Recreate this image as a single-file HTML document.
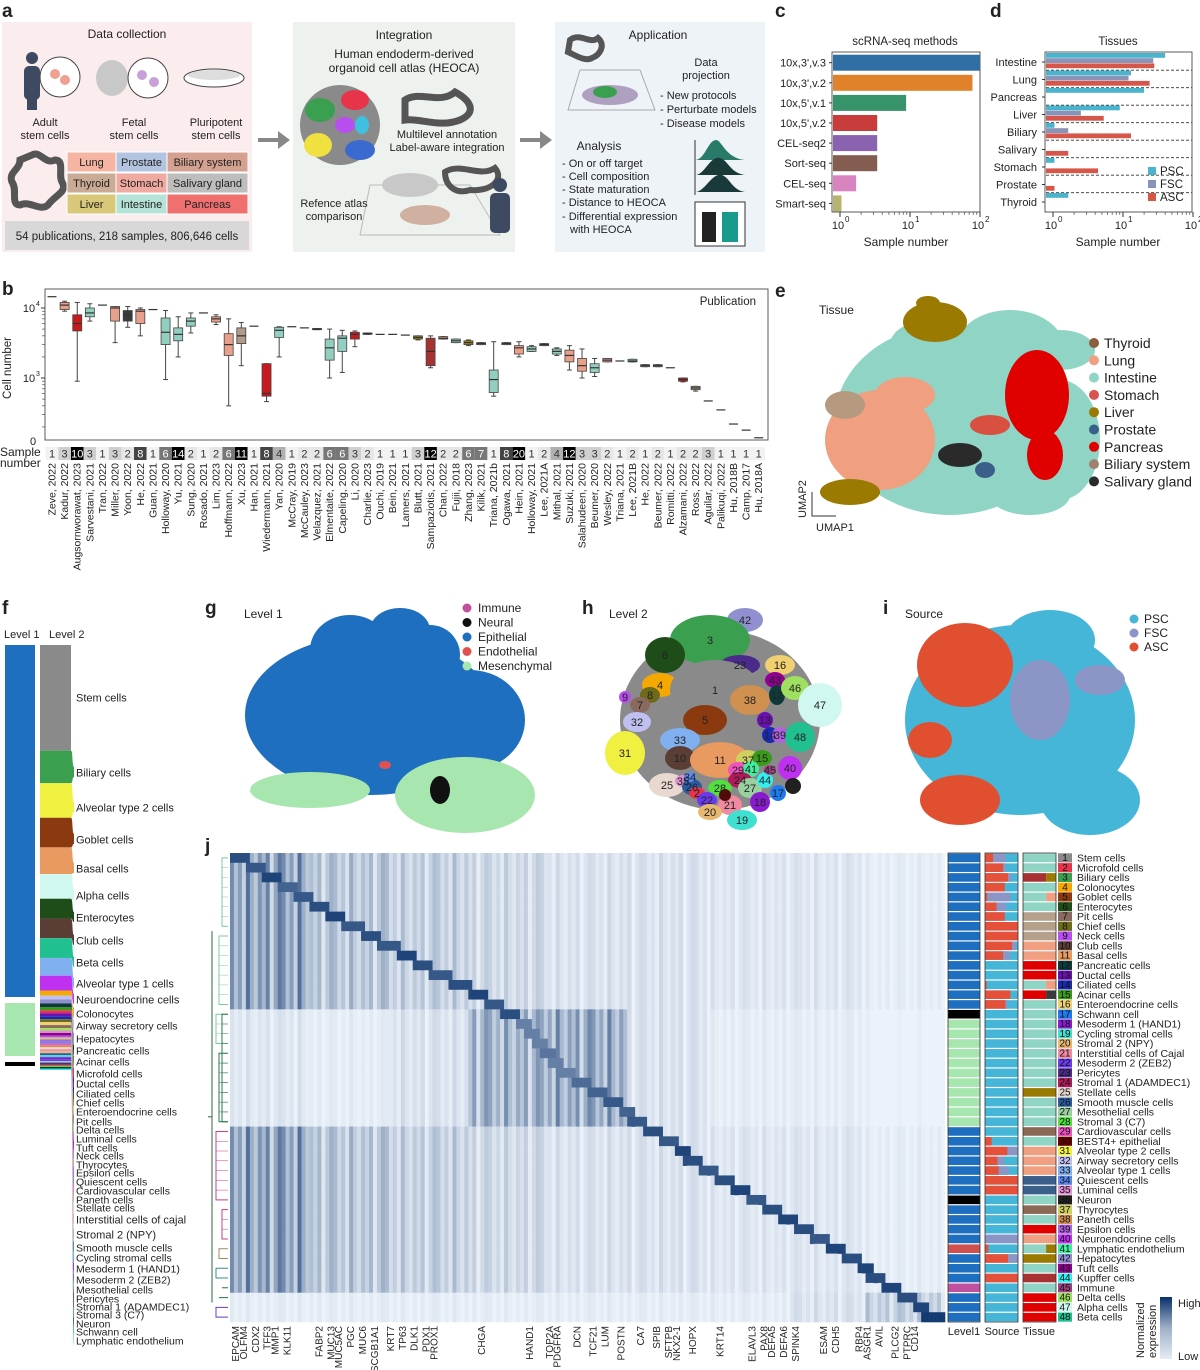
<!DOCTYPE html>
<html><head><meta charset="utf-8">
<style>
html,body{margin:0;padding:0;background:#fff;}
svg{display:block;font-family:"Liberation Sans",sans-serif;}
</style></head>
<body>
<svg id="fig" width="1200" height="1370" viewBox="0 0 1200 1370" xmlns="http://www.w3.org/2000/svg" fill="#222">
<g font-weight="bold" font-size="19">
<text x="2" y="17">a</text>
<text x="775" y="17">c</text>
<text x="990" y="17">d</text>
<text x="2" y="295">b</text>
<text x="775" y="297">e</text>
<text x="2" y="614">f</text>
<text x="205" y="614">g</text>
<text x="582" y="614">h</text>
<text x="883" y="614">i</text>
<text x="205" y="852">j</text>
</g>

<g id="panelA" font-size="11">
<rect x="2" y="22" width="250" height="230" fill="#fbeced"/>
<text x="127" y="38" text-anchor="middle" font-size="12">Data collection</text>
<g>
<circle cx="32" cy="58" r="6" fill="#3d4a62"/><rect x="24" y="66" width="16" height="34" rx="5" fill="#3d4a62"/><rect x="27" y="98" width="10" height="12" fill="#3d4a62"/>
<circle cx="60" cy="77" r="20" fill="#fff" stroke="#444"/><circle cx="55" cy="74" r="5" fill="#f0a090"/><circle cx="65" cy="80" r="5" fill="#f0a090"/>
</g>
<text x="45" y="126" text-anchor="middle">Adult</text>
<text x="45" y="139" text-anchor="middle">stem cells</text>
<g>
<ellipse cx="112" cy="78" rx="16" ry="18" fill="#c8c8c8"/><circle cx="148" cy="78" r="20" fill="#fff" stroke="#444"/><circle cx="142" cy="75" r="5" fill="#c8a0d8"/><circle cx="154" cy="82" r="5" fill="#c8a0d8"/>
</g>
<text x="134" y="126" text-anchor="middle">Fetal</text>
<text x="134" y="139" text-anchor="middle">stem cells</text>
<g>
<ellipse cx="214" cy="78" rx="30" ry="9" fill="#fff" stroke="#444"/><ellipse cx="214" cy="75" rx="26" ry="5" fill="#ddd"/>
</g>
<text x="216" y="126" text-anchor="middle">Pluripotent</text>
<text x="216" y="139" text-anchor="middle">stem cells</text>
<path d="M32 155 C40 150 45 165 55 160 C65 160 58 175 62 182 C68 192 55 195 48 205 C40 212 30 200 20 205 C10 205 18 190 12 182 C8 172 20 170 20 160 Z" fill="none" stroke="#555" stroke-width="7"/>
<g id="tissueTable"></g>
<rect x="5" y="221" width="244" height="29" fill="#d8d8d8"/>
<text x="127" y="240" text-anchor="middle" font-size="11.5">54 publications, 218 samples, 806,646 cells</text>
<path d="M258 138 L278 138 L278 131 L290 140 L278 149 L278 142 L258 142 Z" fill="#888"/>
<rect x="293" y="22" width="222" height="230" fill="#eef2ee"/>
<text x="404" y="39" text-anchor="middle" font-size="12">Integration</text>
<text x="404" y="58" text-anchor="middle" font-size="12">Human endoderm-derived</text>
<text x="404" y="72" text-anchor="middle" font-size="12">organoid cell atlas (HEOCA)</text>
<g>
<ellipse cx="340" cy="125" rx="40" ry="40" fill="#8a8a8a"/><ellipse cx="320" cy="110" rx="15" ry="12" fill="#3aa050"/><ellipse cx="355" cy="100" rx="14" ry="10" fill="#e8344a"/><ellipse cx="318" cy="145" rx="14" ry="12" fill="#f0e040"/><ellipse cx="360" cy="150" rx="15" ry="10" fill="#3a6ad0"/><ellipse cx="345" cy="125" rx="10" ry="8" fill="#b84ef0"/><ellipse cx="362" cy="125" rx="7" ry="9" fill="#40c0e0"/>
<path d="M405 100 C420 90 440 105 455 92 C470 100 478 112 460 120 C440 128 420 118 405 120 Z" fill="none" stroke="#555" stroke-width="7"/>
</g>
<text x="447" y="138" text-anchor="middle">Multilevel annotation</text>
<text x="447" y="151" text-anchor="middle">Label-aware integration</text>
<path d="M370 185 L470 185 L500 235 L360 235 Z" fill="none" stroke="#bbb"/>
<ellipse cx="410" cy="185" rx="28" ry="12" fill="#c8c8c8"/><ellipse cx="425" cy="215" rx="25" ry="10" fill="#d0b0a0"/>
<path d="M445 172 C460 162 480 178 495 168 C505 180 490 192 470 190 C455 195 445 185 445 172 Z" fill="none" stroke="#555" stroke-width="6"/>
<circle cx="500" cy="185" r="7" fill="#3d4a62"/><rect x="490" y="193" width="20" height="40" rx="5" fill="#3d4a62"/>
<text x="334" y="207" text-anchor="middle">Refence atlas</text>
<text x="334" y="220" text-anchor="middle">comparison</text>
<path d="M520 138 L540 138 L540 131 L552 140 L540 149 L540 142 L520 142 Z" fill="#888"/>
<rect x="555" y="22" width="210" height="230" fill="#eef3f8"/>
<text x="658" y="39" text-anchor="middle" font-size="12">Application</text>
<path d="M570 40 C580 32 590 45 598 38 C606 45 600 55 592 58 C585 62 575 55 568 52 Z" fill="none" stroke="#555" stroke-width="6"/>
<path d="M580 70 L640 70 L655 110 L568 110 Z" fill="none" stroke="#aaa"/><ellipse cx="610" cy="95" rx="28" ry="10" fill="#b0a0c0"/><ellipse cx="605" cy="92" rx="12" ry="6" fill="#3aa050"/>
<text x="706" y="66" text-anchor="middle">Data</text>
<text x="706" y="79" text-anchor="middle">projection</text>
<text x="660" y="99">- New protocols</text>
<text x="660" y="113">- Perturbate models</text>
<text x="660" y="127">- Disease models</text>
<text x="599" y="150" text-anchor="middle" font-size="12">Analysis</text>
<text x="562" y="167">- On or off target</text>
<text x="562" y="180">- Cell composition</text>
<text x="562" y="193">- State maturation</text>
<text x="562" y="206">- Distance to HEOCA</text>
<text x="562" y="220">- Differential expression</text>
<text x="570" y="233">with HEOCA</text>
<g><path d="M695 160 C705 160 708 140 716 140 C722 140 725 158 745 160 Z" fill="#2a7a6a"/><path d="M695 175 C705 175 710 155 720 158 C728 160 730 173 745 175 Z" fill="#1a3a3a"/><path d="M695 192 C705 192 712 172 722 175 C730 178 732 190 745 192 Z" fill="#1a3a3a"/><line x1="695" y1="140" x2="695" y2="195" stroke="#333"/></g>
<rect x="695" y="202" width="50" height="44" fill="#fff" stroke="#333"/>
<rect x="702" y="212" width="14" height="30" fill="#222"/><rect x="722" y="212" width="16" height="30" fill="#1a9a8a"/>
</g>

<g id="panelC" font-size="11"></g>
<g id="panelD" font-size="11"></g>
<g id="panelB" font-size="11"></g>

<g id="panelE">
<text x="819" y="314" font-size="12">Tissue</text>
<g>
<ellipse cx="950" cy="420" rx="115" ry="95" fill="#8fd4c4"/>
<ellipse cx="1010" cy="350" rx="55" ry="40" fill="#8fd4c4"/>
<ellipse cx="1060" cy="350" rx="35" ry="20" fill="#8fd4c4"/>
<ellipse cx="930" cy="345" rx="40" ry="25" fill="#8fd4c4"/>
<ellipse cx="1060" cy="440" rx="40" ry="60" fill="#8fd4c4"/>
<ellipse cx="1030" cy="495" rx="40" ry="20" fill="#8fd4c4"/>
<ellipse cx="935" cy="322" rx="32" ry="20" fill="#9a7a00"/>
<ellipse cx="928" cy="303" rx="12" ry="7" fill="#9a7a00"/>
<ellipse cx="1037" cy="395" rx="32" ry="45" fill="#e00000"/>
<ellipse cx="1045" cy="455" rx="18" ry="25" fill="#e00000"/>
<ellipse cx="880" cy="440" rx="55" ry="50" fill="#f0a080"/>
<ellipse cx="905" cy="395" rx="30" ry="18" fill="#f0a080"/>
<ellipse cx="845" cy="405" rx="20" ry="14" fill="#b69a80"/>
<ellipse cx="960" cy="455" rx="22" ry="12" fill="#2a2a2a"/>
<ellipse cx="985" cy="470" rx="10" ry="8" fill="#3a5f8a"/>
<ellipse cx="850" cy="492" rx="30" ry="13" fill="#9a7a00"/>
<ellipse cx="990" cy="425" rx="20" ry="10" fill="#d95040"/>
</g>
<path d="M812 492 L812 516 L836 516" fill="none" stroke="#333"/>
<text x="816" y="531" font-size="11">UMAP1</text>
<text x="806" y="518" font-size="11" transform="rotate(-90 806 518)">UMAP2</text>
<g id="legendE" font-size="14"></g>
</g>

<g id="panelF" font-size="11">
<text x="4" y="638">Level 1</text>
<text x="49" y="638">Level 2</text>
</g>

<g id="panelG">
<text x="244" y="618" font-size="12">Level 1</text>
<ellipse cx="370" cy="715" rx="125" ry="80" fill="#1f6fc0"/>
<ellipse cx="350" cy="650" rx="40" ry="35" fill="#1f6fc0"/>
<ellipse cx="400" cy="630" rx="30" ry="22" fill="#1f6fc0"/>
<ellipse cx="470" cy="720" rx="55" ry="50" fill="#1f6fc0"/>
<ellipse cx="430" cy="655" rx="30" ry="30" fill="#1f6fc0"/>
<ellipse cx="465" cy="795" rx="70" ry="38" fill="#a8e6b0"/>
<ellipse cx="310" cy="790" rx="60" ry="18" fill="#a8e6b0"/>
<ellipse cx="440" cy="790" rx="10" ry="14" fill="#111"/>
<ellipse cx="385" cy="765" rx="6" ry="4" fill="#e05050"/>
<g id="legendG" font-size="12"></g>
</g>

<g id="panelH">
<text x="609" y="618" font-size="12">Level 2</text>
<g id="umapH"></g>
</g>

<g id="panelI">
<text x="905" y="618" font-size="12">Source</text>
<ellipse cx="1020" cy="720" rx="115" ry="95" fill="#46b6d8"/>
<ellipse cx="1050" cy="640" rx="45" ry="30" fill="#46b6d8"/>
<ellipse cx="1090" cy="800" rx="50" ry="35" fill="#46b6d8"/>
<ellipse cx="960" cy="800" rx="40" ry="25" fill="#e05030"/>
<ellipse cx="965" cy="665" rx="48" ry="42" fill="#e05030"/>
<ellipse cx="1040" cy="700" rx="30" ry="40" fill="#8c96c6"/>
<ellipse cx="1100" cy="680" rx="25" ry="15" fill="#8c96c6"/>
<ellipse cx="930" cy="740" rx="22" ry="18" fill="#e05030"/>
<g id="legendI" font-size="12"></g>
</g>

<g id="panelJ" font-size="10.5"></g>
</svg>

<script>
const methodNames = ["10x,3',v.3","10x,3',v.2","10x,5',v.1","10x,5',v.2","CEL-seq2","Sort-seq","CEL-seq","Smart-seq"];
const methodCounts = [100, 78, 8.8, 3.4, 3.4, 3.4, 1.7, 1.05];
const methodColors = ["#2f6fa3","#e0822a","#36936a","#c83c3c","#8b62b0","#845c50","#d984c0","#b6b46e"];

const tissueNames = ["Intestine","Lung","Pancreas","Liver","Biliary","Salivary","Stomach","Prostate","Thyroid"];
const tissuePSC = [40, 13, 20, 9, 1.05, 0, 1.05, 0, 1.65];
const tissueFSC = [27, 12, 0, 2.5, 1.65, 0, 0, 0, 0];
const tissueASC = [28, 24, 0, 5.3, 13, 1.65, 4.4, 1.05, 0];

const pubNames = ["Zeve, 2022","Kadur, 2022","Augsornworawat, 2023","Sarvestani, 2021","Tran, 2022","Miller, 2020","Yoon, 2022","He, 2022","Guan, 2021","Holloway, 2020","Yu, 2021","Sung, 2020","Rosado, 2021","Lim, 2023","Hoffmann, 2022","Xu, 2023","Han, 2021","Wiedermann, 2021","Yan, 2020","McCray, 2019","McCauley, 2023","Velazquez, 2021","Elmentaite, 2022","Capeling, 2020","Li, 2020","Charlie, 2023","Ouchi, 2019","Bein, 2021","Lamers, 2021","Blutt, 2021","Sampaziotis, 2021","Chan, 2022","Fujii, 2018","Zhang, 2023","Kilik, 2021","Triana, 2021b","Ogawa, 2021","Hein, 2021","Holloway, 2021","Lee, 2021A","Mithal, 2021","Suzuki, 2021","Salahudeen, 2020","Beumer, 2020","Wesley, 2022","Triana, 2021","Lee, 2021B","He, 2022","Beumer, 2022","Romitti, 2022","Alzamani, 2022","Ross, 2022","Aguilar, 2022","Palikuqi, 2022","Hu, 2018B","Camp, 2017","Hu, 2018A"];
const pubSamples = [1,3,10,3,1,3,2,8,1,6,14,2,1,2,6,11,1,8,4,1,2,2,6,6,3,2,1,1,1,3,12,2,2,6,7,1,8,20,1,2,4,12,3,3,2,1,2,1,2,1,2,2,3,1,1,1,1];
const pubMedian = [14500,11000,6000,8500,11000,10000,8000,9000,9500,4500,4200,6500,8500,7000,3000,4000,5500,600,4800,5400,5200,5000,2700,3700,4200,4300,4200,4200,4100,3800,2400,3700,3400,3200,3100,950,3100,2700,2600,3000,2400,2100,1500,1400,1800,1750,1750,1500,1500,1400,950,720,470,350,220,180,140];
const pubQ1 = [14500,9500,4700,7500,11000,6500,6500,6000,9500,3000,3400,5500,8500,6300,2100,3100,5500,550,3800,5400,5200,4900,1800,2400,3600,4200,4200,4200,4100,3600,1500,3600,3200,3000,3000,620,3000,2200,2400,2900,2200,1700,1250,1200,1700,1750,1700,1450,1450,1400,900,680,470,350,220,180,140];
const pubQ3 = [14500,12000,8000,10000,11000,10500,9200,9500,9500,7200,5200,7200,8500,7500,4300,5200,5500,1600,5300,5400,5200,5100,3600,4000,4500,4400,4200,4200,4100,4000,3700,3900,3600,3400,3200,1300,3200,2900,2800,3100,2600,2500,1900,1600,1900,1750,1850,1550,1550,1400,1000,760,470,350,220,180,140];
const pubMin = [14500,9000,900,6500,11000,3200,5300,4000,9500,950,2000,4400,8500,5800,400,1500,5500,460,2000,5400,5200,4900,1000,1200,2800,4200,4200,4200,4100,3500,1400,3600,3200,2900,3000,550,3000,2000,2400,2900,2100,1300,1000,1050,1700,1750,1700,1450,1450,1400,880,650,470,350,220,180,140];
const pubMax = [14500,12500,12000,11500,11000,10500,10500,10000,9500,9200,7500,8500,8500,8000,7000,6200,5500,1600,5400,5400,5200,5100,5000,4800,4700,4400,4200,4200,4100,4000,4000,3900,3600,3500,3200,3300,3200,3300,2900,3100,2700,2900,2600,1900,1900,1750,1850,1550,1550,1400,1000,760,470,350,220,180,140];
const pubTissue = ["I","L","P","I","I","L","S","L","L","I","I","I","V","L","L","T","B","P","I","L","L","I","I","I","P","I","I","I","I","V","B","L","I","V","I","I","I","L","I","L","I","L","L","I","L","I","I","L","I","T","P","T","L","I","V","L","V"];
const tissueColor = {I:"#93cfc0",L:"#e8a08a",P:"#c8191e",S:"#3a3a3a",T:"#b09a88",V:"#a88a10",B:"#a83232",R:"#3a5f8a"};

const eLegendNames = ["Thyroid","Lung","Intestine","Stomach","Liver","Prostate","Pancreas","Biliary system","Salivary gland"];
const eLegendColors = ["#8b5e3c","#f0a080","#8fd4c4","#d9534f","#9a7a00","#3a5f8a","#e00000","#a08070","#2a2a2a"];

const clusterNames = ["Stem cells","Microfold cells","Biliary cells","Colonocytes","Goblet cells","Enterocytes","Pit cells","Chief cells","Neck cells","Club cells","Basal cells","Pancreatic cells","Ductal cells","Ciliated cells","Acinar cells","Enteroendocrine cells","Schwann cell","Mesoderm 1 (HAND1)","Cycling stromal cells","Stromal 2 (NPY)","Interstitial cells of Cajal","Mesoderm 2 (ZEB2)","Pericytes","Stromal 1 (ADAMDEC1)","Stellate cells","Smooth muscle cells","Mesothelial cells","Stromal 3 (C7)","Cardiovascular cells","BEST4+ epithelial","Alveolar type 2 cells","Airway secretory cells","Alveolar type 1 cells","Quiescent cells","Luminal cells","Neuron","Thyrocytes","Paneth cells","Epsilon cells","Neuroendocrine cells","Lymphatic endothelium","Hepatocytes","Tuft cells","Kupffer cells","Immune","Delta cells","Alpha cells","Beta cells"];
const clusterColors = ["#8a8a8a","#e8344a","#3aa050","#f5a800","#8b3a0f","#1f4d1a","#8a6a5e","#6d6a1a","#b84ef0","#5a3e36","#e89a60","#0f3a3a","#6a0fb0","#1a2ab0","#3a9a1a","#f0d070","#1a7af0","#8a1ad0","#40e0d0","#e8b870","#f08aa0","#6a3af0","#4a2a8a","#b01a5a","#e8d8d0","#2a5aa0","#9ad0a0","#50e040","#f050c0","#6a0000","#f0f040","#c0c0f0","#80b0f0","#5a8af0","#e090d0","#202020","#d0d060","#d09050","#b060e0","#c030f0","#40f0a0","#9090d0","#900090","#30f0f0","#a04080","#a0e060","#d0f8f0","#20c090"];
const clusterLevel1 = ["E","E","E","E","E","E","E","E","E","E","E","E","E","E","E","E","N","M","M","M","M","M","M","M","M","M","M","M","E","E","E","E","E","E","E","N","E","E","E","E","D","E","E","E","X","E","E","E"];
const level1Color = {E:"#1f6fc0",N:"#000",M:"#a8e6b0",D:"#d05050",X:"#c050a0"};
const srcASC = [.25,.55,.7,.6,.07,.35,.6,1,1,.82,.55,0,0,.05,.77,.62,0,0,0,0,0,0,0,0,0,0,0,0,0,.2,.68,.38,.42,1,1,0,0,0,0,0,.1,.7,0,1,0,0,0,0];
const srcFSC = [.37,.08,.1,0,.7,.28,0,0,0,.12,.2,0,0,0,0,.05,0,0,.03,0,0,0,0,0,0,0,0,0,0,0,.32,.2,.3,0,0,0,0,0,0,1,0,.3,0,0,0,0,0,0];
const rowTissue = ["I","I","BV","I","IL","I","S","S","S","L","L","P","P","IL","PK","I","I","I","I","I","I","I","I","I","V","I","I","I","T","I","L","L","L","R","R","I","T","I","P","L","IV","V","I","B","I","P","P","P"];
const rowTissueColors = {I:"#8fd4c4",L:"#f0a080",P:"#e00000",B:"#a83232",V:"#9a7a00",S:"#b5a08c",T:"#8b6a55",R:"#3a5f8a",K:"#3a3a3a"};

const fLabels = ["Stem cells","Biliary cells","Alveolar type 2 cells","Goblet cells","Basal cells","Alpha cells","Enterocytes","Club cells","Beta cells","Alveolar type 1 cells","Neuroendocrine cells","Colonocytes","Airway secretory cells","Hepatocytes","Pancreatic cells","Acinar cells","Microfold cells","Ductal cells","Ciliated cells","Chief cells","Enteroendocrine cells","Pit cells","Delta cells","Luminal cells","Tuft cells","Neck cells","Thyrocytes","Epsilon cells","Quiescent cells","Cardiovascular cells","Paneth cells","Stellate cells","Interstitial cells of cajal","Stromal 2 (NPY)","Smooth muscle cells","Cycling stromal cells","Mesoderm 1 (HAND1)","Mesoderm 2 (ZEB2)","Mesothelial cells","Pericytes","Stromal 1 (ADAMDEC1)","Stromal 3 (C7)","Neuron","Schwann cell","Lymphatic endothelium"];
const fCells = [107,33,35,30,27,25,20,20,20,18,15,5,4,4,4,3,3,3,3,3,3,3,2.5,2.5,2.5,2,2,2,2,2,2,2,2,2,2,2,2,2,1.5,1.5,1.5,1.5,1,1,1];
const fLabelY = [698,773,808,840,869,896,918,941,963,984,1000,1014,1026,1039,1051,1062,1074,1084,1094,1103,1112,1122,1130,1139,1148,1156,1165,1173,1182,1191,1200,1208,1220,1235,1248,1258,1269,1280,1290,1299,1307,1315,1324,1332,1341];

const geneLabels = ["EPCAM","OLFM4","CDX2","TFF3","MMP1","KLK11","FABP2","MUC13","MUC5AC","PGC","MUC6","SCGB1A1","KRT7","TP63","DLK1","PDX1","PROX1","CHGA","HAND1","TOP2A","PDGFRA","DCN","TCF21","LUM","POSTN","CA7","SPIB","SFTPB","NKX2-1","HOPX","KRT14","ELAVL3","PAX8","DEFA5","DEFA6","SPINK4","ESAM","CDH5","RBP4","ASGR1","AVIL","PLCG2","PTPRC","CD14"];
const geneColIndex = [1,3,6,9,11,14,22,25,27,30,33,36,40,43,46,49,51,63,75,80,82,87,91,94,98,103,107,110,112,116,123,131,134,136,139,142,149,152,158,160,163,167,170,172];

const hmDiagStart = [0,4,8,12,16,20,24,28,33,37,42,46,50,55,60,64,68,72,74,76,78,80,83,86,90,94,98,100,104,108,112,114,118,122,126,130,134,138,142,146,150,154,158,160,164,168,172,174];
const hmDiagWidth = [5,5,5,5,5,5,5,6,5,6,5,5,6,6,5,5,5,4,4,4,4,4,4,5,5,5,4,5,5,5,4,5,5,5,5,5,5,5,5,5,5,5,4,5,5,5,4,6];
const hmDiagValue = [.85,.8,.9,.75,.8,.85,.9,.8,.85,.8,.9,.85,.8,.85,.9,.8,.85,.6,.6,.6,.65,.6,.6,.7,.75,.8,.75,.8,.85,.8,.9,.85,.8,.85,.9,.8,.85,.9,.85,.8,.9,.85,.9,.85,.9,.85,.9,.95];
const hmRowGroup = ["E","E","E","E","E","E","E","E","E","E","E","E","E","E","E","E","M","M","M","M","M","M","M","M","M","M","M","M","E","E","E","E","E","E","E","E","E","E","E","E","E","E","E","E","E","X","X","X"];
const hmGroupBandE = [.45,.25,.2,.15,.1,.1,.08,.08,.05];
const hmGroupBandM = [.08,.05,.1,.35,.4,.1,.05,.05,.03];
const hmGroupBandX = [.05,.05,.05,.05,.05,.05,.05,.1,.2];
const hmColTexture = [1.2,.6,1.0,.4,1.5,.8,.5,1.1,.7,1.3,.3,.9,1.4];

const NS = "http://www.w3.org/2000/svg";
function mk(tag, attrs, parent){const e=document.createElementNS(NS,tag);for(const k in attrs)e.setAttribute(k,attrs[k]);(parent||document.getElementById('fig')).appendChild(e);return e;}
function txt(s, attrs, parent){const e=mk('text',attrs,parent);e.textContent=s;return e;}
function blue(v){
 v=Math.max(0,Math.min(1,v));
 const c0=[240,246,252],c1=[8,48,107];
 const r=Math.round(c0[0]+(c1[0]-c0[0])*v),g=Math.round(c0[1]+(c1[1]-c0[1])*v),b=Math.round(c0[2]+(c1[2]-c0[2])*v);
 return `rgb(${r},${g},${b})`;}

(function(){
 const g=document.getElementById('tissueTable');
 const cells=[["Lung","#f5b5a2"],["Prostate","#b3c4e0"],["Biliary system","#d4a090"],["Thyroid","#c9ab96"],["Stomach","#f0aaa2"],["Salivary gland","#bdbdbd"],["Liver","#d9c87a"],["Intestine","#b5e3d8"],["Pancreas","#f07070"]];
 const xs=[67,116,167],ws=[49,51,81];
 cells.forEach((c,i)=>{const col=i%3,row=Math.floor(i/3);
  const r=mk('rect',{x:xs[col],y:152+row*21,width:ws[col],height:20,fill:c[1],stroke:'#fff'},g);
  
  
  const t=txt(c[0],{x:xs[col]+ws[col]/2,y:152+row*21+14,'text-anchor':'middle','font-size':11},g);
  
  
 });
})();

(function(){
 const g=document.getElementById('panelC');
 const x0=840,dec=70,rowH=20.1,bh=16;
 const xs=v=>x0+dec*Math.log10(v);
 txt("scRNA-seq methods",{x:905,y:45,'text-anchor':'middle','font-size':11.5},g);
 mk('rect',{x:832,y:52,width:148,height:160,fill:'none',stroke:'#333','stroke-width':0.8},g);
 methodNames.forEach((n,i)=>{
  const cy=62.7+i*rowH;
  const b=mk('rect',{x:833,y:cy-bh/2,width:xs(methodCounts[i])-833,height:bh,fill:methodColors[i]},g);
  
  
  const t=txt(n,{x:826,y:cy+4,'text-anchor':'end'},g);
  
  
  mk('line',{x1:829,x2:832,y1:cy,y2:cy,stroke:'#333'},g);
 });
 [0,1,2].forEach(p=>{const x=xs(Math.pow(10,p));mk('line',{x1:x,x2:x,y1:212,y2:217,stroke:'#333'},g);
  const t=txt('10',{x:x-2,y:229,'text-anchor':'middle'},g);
  
  
  txt(String(p),{x:x+5,y:222,'font-size':8},g);
  if(p<2)for(let k=2;k<10;k++){const xx=xs(k*Math.pow(10,p));mk('line',{x1:xx,x2:xx,y1:212,y2:215,stroke:'#333','stroke-width':.6},g);}
 });
 txt("Sample number",{x:906,y:246,'text-anchor':'middle','font-size':12},g);
})();

(function(){
 const g=document.getElementById('panelD');
 const x0=1053,dec=70,rowH=17.5;
 const xs=v=>x0+dec*Math.log10(v);
 txt("Tissues",{x:1118,y:45,'text-anchor':'middle','font-size':11.5},g);
 mk('rect',{x:1045,y:52,width:147,height:160,fill:'none',stroke:'#333','stroke-width':0.8},g);
 const series=[[tissuePSC,"#4bb3cc","psc"],[tissueFSC,"#8a93b8","fsc"],[tissueASC,"#d6564a","asc"]];
 tissueNames.forEach((n,i)=>{
  const cy=62+i*rowH;
  series.forEach((s,j)=>{const v=s[0][i]; if(v>0){
   const b=mk('rect',{x:1046,y:cy-9+j*5.2,width:xs(v)-1046,height:4.8,fill:s[1]},g);
   
   }});
  if(i<8)mk('line',{x1:1046,x2:1192,y1:cy+8.2,y2:cy+8.2,stroke:'#333','stroke-dasharray':'3,2','stroke-width':.8},g);
  const t=txt(n,{x:1037,y:cy+4,'text-anchor':'end'},g);
  
  
  mk('line',{x1:1042,x2:1045,y1:cy,y2:cy,stroke:'#333'},g);
 });
 [0,1,2].forEach(p=>{const x=xs(Math.pow(10,p));mk('line',{x1:x,x2:x,y1:212,y2:217,stroke:'#333'},g);
  const t=txt('10',{x:x-2,y:229,'text-anchor':'middle'},g);
  
  
  txt(String(p),{x:x+5,y:222,'font-size':8},g);
  if(p<2)for(let k=2;k<10;k++){const xx=xs(k*Math.pow(10,p));mk('line',{x1:xx,x2:xx,y1:212,y2:215,stroke:'#333','stroke-width':.6},g);}
 });
 const lg=[["PSC","#4bb3cc"],["FSC","#8a93b8"],["ASC","#d6564a"]];
 lg.forEach((l,i)=>{const r=mk('rect',{x:1148,y:167+i*13,width:8,height:8,fill:l[1]},g);
  
  
  txt(l[0],{x:1160,y:175+i*13,'font-size':11.5},g);});
 txt("Sample number",{x:1118,y:246,'text-anchor':'middle','font-size':12},g);
})();

(function(){
 const g=document.getElementById('panelB');
 const ys=v=>308-70*(Math.log10(v)-4);
 const xAt=i=>52+i*12.62;
 mk('rect',{x:45,y:289,width:723,height:151,fill:'none',stroke:'#333','stroke-width':.8},g);
 txt("Publication",{x:756,y:305,'text-anchor':'end','font-size':11.5},g);
 [[1e4,'4'],[1e3,'3']].forEach(t=>{const y=ys(t[0]);mk('line',{x1:41,x2:45,y1:y,y2:y,stroke:'#333'},g);
  const l=txt('10',{x:29,y:y+4,'text-anchor':'middle','font-size':11},g);
  
  
  txt(t[1],{x:36,y:y-2,'font-size':7},g);});
 [2000,3000,4000,5000,6000,7000,8000,9000,200,300,400,500,600,700,800,900].forEach(v=>{const y=ys(v);mk('line',{x1:42,x2:45,y1:y,y2:y,stroke:'#333','stroke-width':.6},g);});
 txt('0',{x:33,y:445,'text-anchor':'middle'},g);
 const yl=txt('Cell number',{x:11,y:368,'text-anchor':'middle','font-size':11.5,transform:'rotate(-90 11 368)'},g);
 
 
 txt('Sample',{x:0,y:456,'font-size':12},g);
 txt('number',{x:0,y:467,'font-size':12},g);
 pubNames.forEach((n,i)=>{
  const x=xAt(i),c=tissueColor[pubTissue[i]];
  const box=mk('g',{},g);
  
  
  if(pubMax[i]!==pubMin[i]) mk('line',{x1:x,x2:x,y1:ys(pubMax[i]),y2:ys(pubMin[i]),stroke:'#444','stroke-width':1},box);
  if(pubQ3[i]!==pubQ1[i]){
   mk('line',{x1:x-2.5,x2:x+2.5,y1:ys(pubMax[i]),y2:ys(pubMax[i]),stroke:'#444'},box);
   mk('line',{x1:x-2.5,x2:x+2.5,y1:ys(pubMin[i]),y2:ys(pubMin[i]),stroke:'#444'},box);
   mk('rect',{x:x-4.5,y:ys(pubQ3[i]),width:9,height:ys(pubQ1[i])-ys(pubQ3[i]),fill:c,stroke:'#444','stroke-width':.8},box);
  }
  mk('line',{x1:x-4.5,x2:x+4.5,y1:ys(pubMedian[i]),y2:ys(pubMedian[i]),stroke:'#333','stroke-width':1.2},box);
  const s=pubSamples[i];
  const gray=s>=10?'#000':s>=8?'#444':s>=6?'#777':s>=4?'#b0b0b0':s>=3?'#cfcfcf':s>=2?'#e6e6e6':'#f2f2f2';
  mk('rect',{x:x-6.3,y:447,width:12.6,height:13,fill:gray},g);
  const st=txt(String(s),{x:x,y:457.5,'text-anchor':'middle','font-size':11,fill:s>=6?'#fff':'#333'},g);
  
  
  const lt=txt(n,{x:x+3.5,y:463,'text-anchor':'end','font-size':10.5,transform:`rotate(-90 ${x+3.5} 463)`},g);
  
  
 });
})();

(function(){
 const g=document.getElementById('legendE');
 eLegendNames.forEach((n,i)=>{const y=343+i*17.3;
  const c=mk('circle',{cx:1094,cy:y,r:5,fill:eLegendColors[i]},g);
  
  
  txt(n,{x:1104,y:y+5},g);});
 const gg=document.getElementById('legendG');
 [["Immune","#c050a0"],["Neural","#111"],["Epithelial","#1f6fc0"],["Endothelial","#e05050"],["Mesenchymal","#a8e6b0"]].forEach((l,i)=>{const y=608+i*14.5;
  const c=mk('circle',{cx:467,cy:y,r:4.5,fill:l[1]},gg);
  
  
  txt(l[0],{x:478,y:y+4},gg);});
 const gi=document.getElementById('legendI');
 [["PSC","#46b6d8"],["FSC","#8c96c6"],["ASC","#e05030"]].forEach((l,i)=>{const y=619+i*14;
  const c=mk('circle',{cx:1134,cy:y,r:4.5,fill:l[1]},gi);
  
  
  txt(l[0],{x:1144,y:y+4},gi);});
})();

(function(){
 const g=document.getElementById('umapH');
 const blobs=[[42,745,620,18,12],[3,710,640,40,25],[6,665,655,20,18],[23,740,665,20,10],[16,780,665,15,10],[4,660,685,18,12],[1,715,690,45,30],[38,750,700,20,15],[43,775,680,10,8],[12,777,695,8,10],[46,795,688,14,12],[47,820,705,22,22],[8,650,695,10,8],[9,625,697,6,6],[7,640,705,10,8],[5,705,720,22,15],[32,637,722,14,10],[13,765,720,8,8],[14,770,735,8,8],[39,780,735,8,8],[48,800,737,15,15],[33,680,740,20,12],[31,625,753,20,22],[10,680,758,15,12],[11,720,760,30,18],[37,748,760,12,10],[15,762,758,10,8],[29,738,770,10,8],[40,790,768,12,12],[41,751,769,8,8],[25,667,785,18,12],[24,740,780,12,8],[27,750,788,12,10],[44,765,780,8,8],[36,793,786,8,8],[17,778,793,8,8],[35,683,781,8,6],[26,692,787,10,8],[28,720,788,12,8],[2,697,793,8,6],[18,760,802,10,10],[22,707,800,10,8],[21,730,805,12,10],[20,710,812,12,8],[19,742,820,15,10],[30,725,795,6,6],[34,690,777,6,5],[45,770,770,6,5]];
 mk('ellipse',{cx:720,cy:720,rx:100,ry:90,fill:'#8a8a8a'},g);
 blobs.forEach(b=>{const e=mk('ellipse',{cx:b[1],cy:b[2],rx:b[3],ry:b[4],fill:clusterColors[b[0]-1]},g);
  
  });
 blobs.forEach(b=>{const t=txt(String(b[0]),{x:b[1],y:b[2]+4,'text-anchor':'middle','font-size':11,fill:'#222'},g);
  
  });
})();

(function(){
 const g=document.getElementById('panelF');
 const l1=[["E",645,997],["M",1003,1056],["N",1062,1066]];
 l1.forEach(s=>{const r=mk('rect',{x:5,y:s[1],width:30,height:s[2]-s[1],fill:level1Color[s[0]]},g);
  
  });
 const total=fCells.reduce((a,b)=>a+b,0);
 const y0=645,H=425;
 let y=y0;
 fLabels.forEach((n,i)=>{
  const h=fCells[i]/total*H;
  let ci=clusterNames.findIndex(c=>c.toLowerCase()===n.toLowerCase());
  const col=ci>=0?clusterColors[ci]:'#999';
  const r=mk('rect',{x:40,y:y,width:31,height:h,fill:col},g);
  
  
  if(i>0){const ly=fLabelY[i];
   mk('path',{d:`M71 ${y} C73 ${y} 72 ${ly-6} 74 ${ly-6} L74 ${ly+4} C72 ${ly+4} 73 ${y+h} 71 ${y+h} Z`,fill:col},g);}
  const t=txt(n,{x:76,y:fLabelY[i]+3.5,'font-size':i<11||i==32||i==33?11:10.5},g);
  
  
  y+=h;
 });
})();

(function(){
 const g=document.getElementById('panelJ');
 const X0=230,X1=945,Y0=853,Y1=1322,nC=180,nR=48;
 const cw=(X1-X0)/nC,rh=(Y1-Y0)/nR;
 mk('rect',{x:X0,y:Y0,width:X1-X0,height:Y1-Y0,fill:blue(0.02)},g);
 for(let r=0;r<nR;r++){
  const grp=hmRowGroup[r];
  const bands=grp==="E"?hmGroupBandE:grp==="M"?hmGroupBandM:hmGroupBandX;
  for(let c=0;c<nC;c++){
   let v=bands[Math.floor(c/20)]*hmColTexture[c%13];
   if(c>=hmDiagStart[r]&&c<hmDiagStart[r]+hmDiagWidth[r]) v=hmDiagValue[r];
   if(v<0.04) continue;
   const cell=mk('rect',{x:X0+c*cw,y:Y0+r*rh,width:cw+.3,height:rh+.3,fill:blue(v)},g);
   
   
  }
 }
 const dg=mk('g',{fill:'none','stroke-width':1},g);
 
 
 const dcol=["#7fc8a0","#7fc8a0","#7fc8a0","#2a7a4a","#2a7a4a","#c04090","#c04090","#a08a60","#3a8a9a","#2a7a4a","#2a7a4a","#6a40c0"];
 const segs=[[0,8],[8,16],[16,20],[16,28],[20,28],[28,36],[36,40],[40,42],[42,44],[44,45],[45,46],[46,48]];
 segs.forEach((s,i)=>{const ya=Y0+(s[0]+.5)*rh,yb=Y0+(s[1]-.5)*rh;const xa=222-i%3*3;
  mk('path',{d:`M228 ${ya} L${xa} ${ya} L${xa} ${yb} L228 ${yb}`,stroke:dcol[i]},dg);
  for(let k=s[0];k<s[1];k++){const yy=Y0+(k+.5)*rh;mk('line',{x1:xa,x2:228,y1:yy,y2:yy,stroke:dcol[i],'stroke-width':.5},dg);}
 });
 mk('path',{d:`M212 ${Y0+8*rh} L212 ${Y0+46*rh}`,stroke:'#2a6a3a'},dg);
 mk('path',{d:`M212 ${Y0+27*rh} L208 ${Y0+27*rh}`,stroke:'#2a6a3a'},dg);
 geneLabels.forEach((n,i)=>{const x=X0+(geneColIndex[i]+.5)*cw+3;
  const t=txt(n,{x:x,y:1326,'text-anchor':'end','font-size':10,transform:`rotate(-90 ${x} 1326)`},g);
  
  });
 const cols=[[948,32],[985,33],[1023,33]];
 for(let r=0;r<nR;r++){
  const y=Y0+r*rh+.6,h=rh-1.2;
  const a=mk('rect',{x:cols[0][0],y:y,width:cols[0][1],height:h,fill:level1Color[clusterLevel1[r]]},g);
  
  
  const w=cols[1][1],asc=srcASC[r],fsc=srcFSC[r];
  const s1=mk('rect',{x:cols[1][0],y:y,width:w,height:h,fill:'#46b6d8'},g);
  
  
  if(asc>0)mk('rect',{x:cols[1][0],y:y,width:w*asc,height:h,fill:'#e5503a'},g);
  if(fsc>0)mk('rect',{x:cols[1][0]+w*asc,y:y,width:w*fsc,height:h,fill:'#8c96c6'},g);
  const tc=rowTissue[r];const tw=cols[2][1];
  const fr=tc.length===1?[1]:tc.length===2?[.7,.3]:[.5,.3,.2];
  let tx=cols[2][0];
  tc.split('').forEach((ch,k)=>{const rr=mk('rect',{x:tx,y:y,width:tw*fr[k],height:h,fill:rowTissueColors[ch]},g);
   
   
   tx+=tw*fr[k];});
  const sw=mk('rect',{x:1058,y:Y0+r*rh+.3,width:14,height:rh-.6,fill:clusterColors[r]},g);
  
  
  txt(String(r+1),{x:1065,y:Y0+r*rh+8,'text-anchor':'middle','font-size':10,fill:'#111'},g);
  const cl=txt(clusterNames[r],{x:1077,y:Y0+r*rh+8.5,'font-size':10.5},g);
  
  
 }
 cols.forEach(c=>mk('rect',{x:c[0],y:Y0,width:c[1],height:Y1-Y0,fill:'none',stroke:'#333','stroke-width':.8},g));
 [["Level1",964],["Source",1002],["Tissue",1039]].forEach(l=>{const t=txt(l[0],{x:l[1],y:1335,'text-anchor':'middle','font-size':11},g);
  
  });
 const defs=mk('defs',{},g);
 const lgd=mk('linearGradient',{id:'cb',x1:0,y1:1,x2:0,y2:0},defs);
 mk('stop',{offset:'0','stop-color':blue(0.05)},lgd);
 mk('stop',{offset:'0.5','stop-color':blue(0.35)},lgd);
 mk('stop',{offset:'1','stop-color':blue(1)},lgd);
 const cb=mk('rect',{x:1160,y:1297,width:12,height:62,fill:'url(#cb)'},g);
 
 
 txt('High',{x:1178,y:1307,'font-size':11},g);
 txt('Low',{x:1178,y:1360,'font-size':11},g);
 txt('Normalized',{x:1144,y:1358,'font-size':11,transform:'rotate(-90 1144 1358)'},g);
 txt('expression',{x:1156,y:1358,'font-size':11,transform:'rotate(-90 1156 1358)'},g);
})();
</script>
</body></html>
